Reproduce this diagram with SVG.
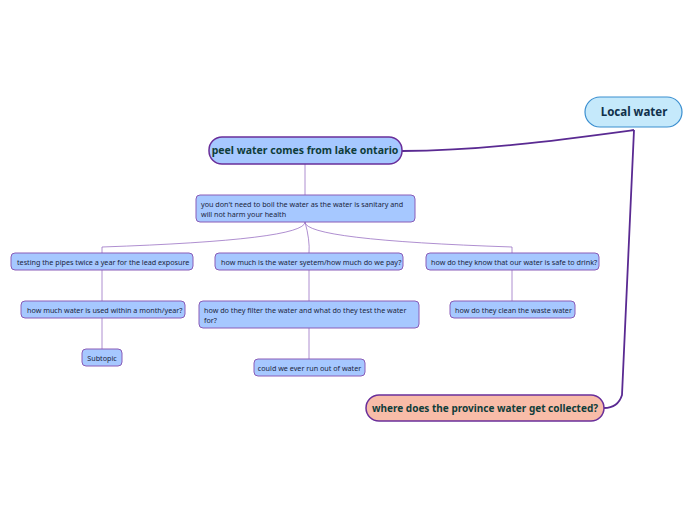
<svg xmlns="http://www.w3.org/2000/svg" width="696" height="520" viewBox="0 0 696 520">
<style>
.n{fill:#a6c8ff;stroke:#8a5cb8;stroke-width:1}
.t{font-family:"Noto Sans","Open Sans",sans-serif;font-size:7.2px;fill:#1b2540}
.b{font-family:"Noto Sans","Open Sans",sans-serif;font-size:10.5px;font-weight:bold;fill:#0f3d3a}
.c{fill:none;stroke:#9a72c4;stroke-width:0.8}
.m{fill:none;stroke:#5a2a92;stroke-width:1.8}
</style>
<rect width="696" height="520" fill="#fff"/>
<g id="connectors">
<path class="m" d="M402,151 C480,151 560,140 634,130"/>
<path class="m" d="M634,130 L622,395 Q618,408 604,408"/>
<path class="c" d="M305,164 V195"/>
<path class="c" d="M305,222 Q305,240 102,247 V253"/>
<path class="c" d="M305,222 Q310,240 309,253"/>
<path class="c" d="M305,222 Q305,240 512,247 V253"/>
<path class="c" d="M102,270 V301"/>
<path class="c" d="M102,318 V349"/>
<path class="c" d="M309,270 V301"/>
<path class="c" d="M309,328 V359"/>
<path class="c" d="M512,270 V301"/>
</g>
<g id="local"><rect x="585" y="97" width="97" height="30" rx="15" fill="#c5e9fb" stroke="#3b8fd0" stroke-width="1.2"/><text x="634" y="116" text-anchor="middle" class="b" style="fill:#10304a;font-size:11.5px">Local water</text></g>
<g id="peel"><rect x="209" y="137" width="193" height="27" rx="13" fill="#a6c8ff" stroke="#6a2f9a" stroke-width="1.5"/><text x="305" y="154" text-anchor="middle" class="b">peel water comes from lake ontario</text></g>
<g id="boil"><rect class="n" x="196" y="195" width="219" height="27" rx="4"/><text x="201" y="207" class="t">you don't need to boil the water as the water is sanitary and</text><text x="201" y="217" class="t">will not harm your health</text></g>
<g id="testing"><rect class="n" x="11" y="253" width="182" height="17" rx="4"/><text x="17" y="264.5" class="t">testing the pipes twice a year for the lead exposure</text></g>
<g id="cost"><rect class="n" x="215" y="253" width="188" height="17" rx="4"/><text x="221" y="264.5" class="t">how much is the water syetem/how much do we pay?</text></g>
<g id="safe"><rect class="n" x="426" y="253" width="173" height="17" rx="4"/><text x="431" y="264.5" class="t">how do they know that our water is safe to drink?</text></g>
<g id="used"><rect class="n" x="21" y="301" width="164" height="17" rx="4"/><text x="27" y="312.5" class="t">how much water is used within a month/year?</text></g>
<g id="filter"><rect class="n" x="199" y="301" width="220" height="27" rx="4"/><text x="204" y="313" class="t">how do they filter the water and what do they test the water</text><text x="204" y="323" class="t">for?</text></g>
<g id="clean"><rect class="n" x="450" y="301" width="125" height="17" rx="4"/><text x="455" y="312.5" class="t">how do they clean the waste water</text></g>
<g id="subtopic"><rect class="n" x="82" y="349" width="40" height="17" rx="4"/><text x="102" y="360.5" text-anchor="middle" class="t">Subtopic</text></g>
<g id="runout"><rect class="n" x="254" y="359" width="111" height="17" rx="4"/><text x="309.5" y="370.5" text-anchor="middle" class="t">could we ever run out of water</text></g>
<g id="province"><rect x="366" y="395" width="238" height="26" rx="13" fill="#f8bca8" stroke="#6a2f9a" stroke-width="1.5"/><text x="485" y="412" text-anchor="middle" class="b" style="font-size:10px">where does the province water get collected?</text></g>
</svg>
